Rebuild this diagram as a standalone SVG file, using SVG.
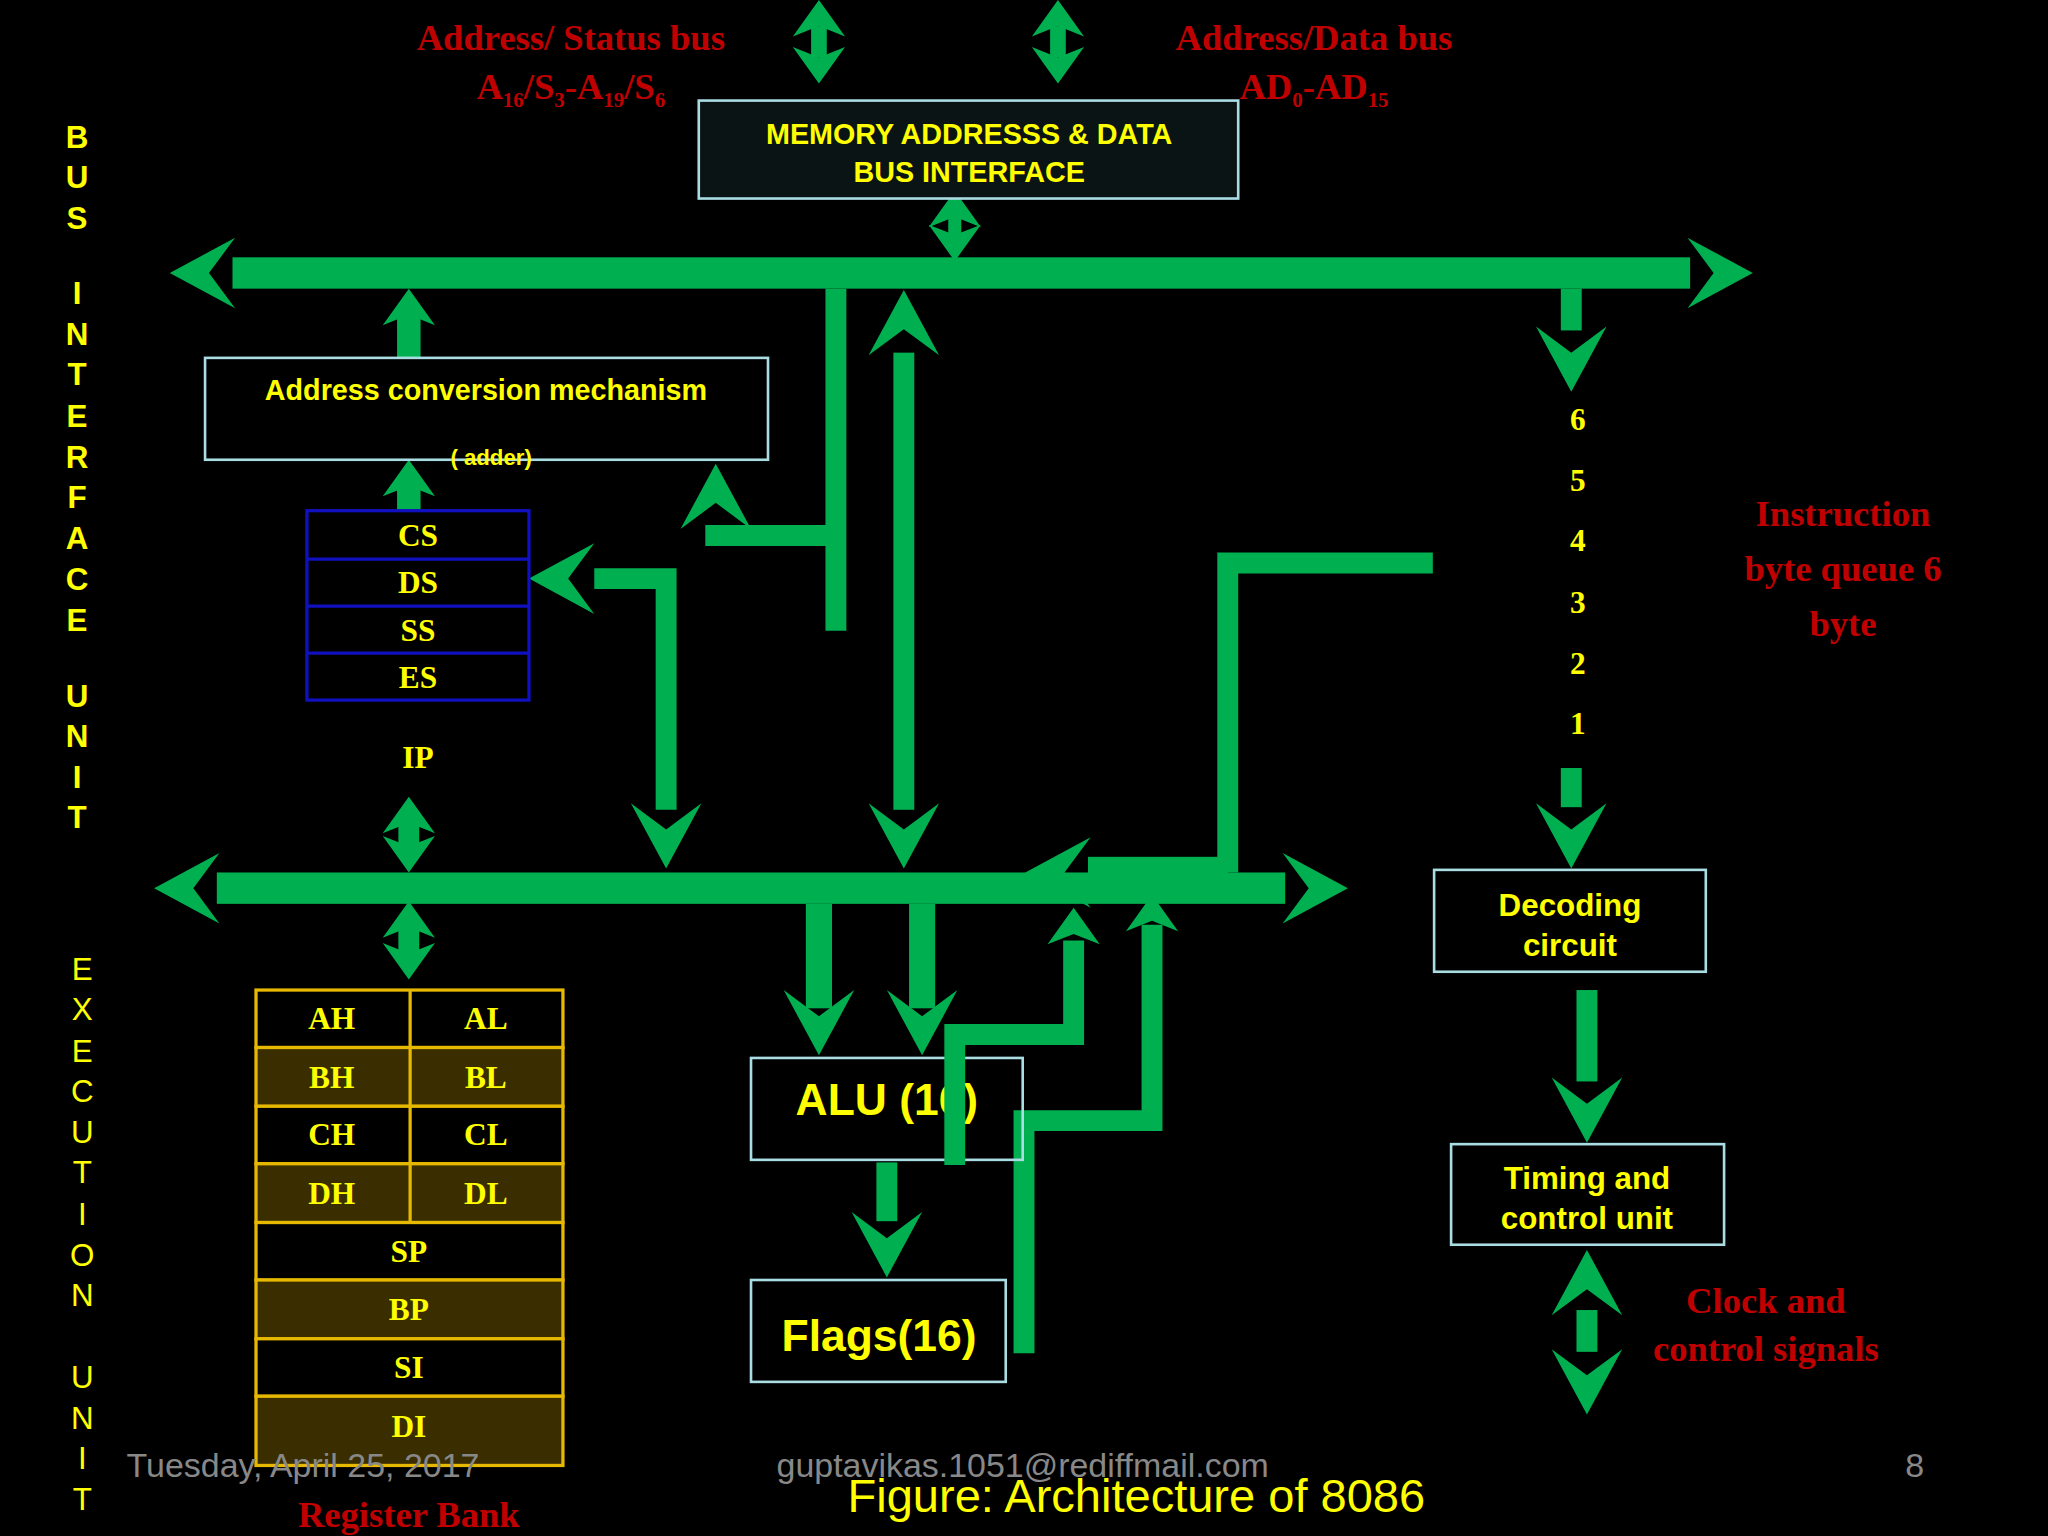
<svg xmlns="http://www.w3.org/2000/svg" xmlns:xlink="http://www.w3.org/1999/xlink" width="2048" height="1536" viewBox="0 0 2048 1536">
<style>
.g{fill:#00b050}
.gl{stroke:#00b050;fill:none}
.red{fill:#c00000;font-family:"Liberation Serif",serif;font-weight:bold;font-size:28px;text-anchor:middle}
.ys{fill:#ffff00;font-family:"Liberation Sans",Arial,sans-serif;font-weight:bold;text-anchor:middle}
.yr{fill:#ffff00;font-family:"Liberation Serif",serif;font-weight:bold;font-size:24px;text-anchor:middle}
.box{fill:none;stroke:#a9dce3;stroke-width:2}
.reg{stroke:#e6b800;stroke-width:2.5}
.ft{fill:#888;font-family:"Liberation Sans",Arial,sans-serif;font-size:26px;text-anchor:middle}
</style>
<defs>
<path id="ah" d="M0 0 L-27 -50 L0 -30 L27 -50 Z" class="g"/>
<path id="sh" d="M0 0 L-20 -28 L0 -20 L20 -28 Z" class="g"/>
</defs>
<rect width="2048" height="1536" fill="#000"/>
<g transform="scale(1.30612)">
<g id="labels">
<text class="red" x="437" y="38">Address/ Status bus</text>
<text class="red" x="437" y="76">A<tspan font-size="16" dy="6">16</tspan><tspan dy="-6">/S</tspan><tspan font-size="16" dy="6">3</tspan><tspan dy="-6">-A</tspan><tspan font-size="16" dy="6">19</tspan><tspan dy="-6">/S</tspan><tspan font-size="16" dy="6">6</tspan></text>
<text class="red" x="1006" y="38">Address/Data bus</text>
<text class="red" x="1006" y="76">AD<tspan font-size="16" dy="6">0</tspan><tspan dy="-6">-AD</tspan><tspan font-size="16" dy="6">15</tspan></text>
<g class="ys" font-size="24">
<text x="59" y="113">B</text><text x="59" y="144">U</text><text x="59" y="175">S</text>
<text x="59" y="233">I</text><text x="59" y="264">N</text><text x="59" y="295">T</text><text x="59" y="327">E</text><text x="59" y="358">R</text><text x="59" y="389">F</text><text x="59" y="420">A</text><text x="59" y="452">C</text><text x="59" y="483">E</text>
<text x="59" y="541">U</text><text x="59" y="572">N</text><text x="59" y="603">I</text><text x="59" y="634">T</text>
</g>
<g fill="#ffff00" font-family="Liberation Sans,Arial,sans-serif" font-size="24" text-anchor="middle">
<text x="63" y="750">E</text><text x="63" y="781">X</text><text x="63" y="813">E</text><text x="63" y="844">C</text><text x="63" y="875">U</text><text x="63" y="906">T</text><text x="63" y="938">I</text><text x="63" y="969">O</text><text x="63" y="1000">N</text>
<text x="63" y="1063">U</text><text x="63" y="1094">N</text><text x="63" y="1125">I</text><text x="63" y="1156">T</text>
</g>
<text class="yr" x="320" y="588">IP</text>
<g class="yr" font-weight="normal" font-size="20">
<text x="1208" y="329">6</text><text x="1208" y="376">5</text><text x="1208" y="422">4</text><text x="1208" y="469">3</text><text x="1208" y="516">2</text><text x="1208" y="562">1</text>
</g>
<text class="red" x="1411" y="403" font-size="34">Instruction</text>
<text class="red" x="1411" y="445" font-size="34">byte queue 6</text>
<text class="red" x="1411" y="487" font-size="34">byte</text>
<text class="red" x="1352" y="1005">Clock and</text>
<text class="red" x="1352" y="1042">control signals</text>
<text class="red" x="313" y="1169">Register Bank</text>
</g>
<g id="connectors">
<rect class="g" x="621" y="20" width="12" height="24"/><use xlink:href="#sh" transform="translate(627,64)"/><use xlink:href="#sh" transform="translate(627,0) rotate(180)"/>
<rect class="g" x="804" y="20" width="12" height="24"/><use xlink:href="#sh" transform="translate(810,64)"/><use xlink:href="#sh" transform="translate(810,0) rotate(180)"/>
<rect class="g" x="726" y="166" width="10" height="18"/><use xlink:href="#sh" transform="translate(731,200)"/><use xlink:href="#sh" transform="translate(731,146) rotate(180)"/>
<rect class="g" x="178" y="197" width="1116" height="24"/>
<use xlink:href="#ah" transform="translate(130,209) rotate(90)"/>
<use xlink:href="#ah" transform="translate(1342,209) rotate(-90)"/>
<rect class="g" x="304" y="240" width="18" height="34"/><use xlink:href="#sh" transform="translate(313,221) rotate(180)"/>
<rect class="g" x="304" y="370" width="18" height="22"/><use xlink:href="#sh" transform="translate(313,352) rotate(180)"/>
<path class="gl" stroke-width="16" d="M455 443 H510 V620"/><use xlink:href="#ah" transform="translate(405,443) rotate(90)"/><use xlink:href="#ah" transform="translate(510,665)"/>
<path class="gl" stroke-width="16" d="M540 410 H640 M640 221 V483"/><use xlink:href="#ah" transform="translate(548,355) rotate(180)"/>
<rect class="g" x="684" y="270" width="16" height="350"/><use xlink:href="#ah" transform="translate(692,222) rotate(180)"/><use xlink:href="#ah" transform="translate(692,665)"/>
<rect class="g" x="305" y="628" width="16" height="22"/><use xlink:href="#sh" transform="translate(313,610) rotate(180)"/><use xlink:href="#sh" transform="translate(313,668)"/>
<rect class="g" x="305" y="708" width="16" height="24"/><use xlink:href="#sh" transform="translate(313,690) rotate(180)"/><use xlink:href="#sh" transform="translate(313,750)"/>
<rect class="g" x="166" y="668" width="818" height="24"/>
<use xlink:href="#ah" transform="translate(118,680) rotate(90)"/>
<use xlink:href="#ah" transform="translate(1032,680) rotate(-90)"/>
<path class="gl" stroke-width="16" d="M940 668 V431 H1097"/>
<rect class="g" x="833" y="656" width="107" height="14"/>
<use xlink:href="#ah" transform="translate(785,668) rotate(90)"/>
<rect class="g" x="617" y="692" width="20" height="80"/><use xlink:href="#ah" transform="translate(627,808)"/>
<rect class="g" x="696" y="692" width="20" height="80"/><use xlink:href="#ah" transform="translate(706,808)"/>
<path class="gl" stroke-width="16" d="M822 720 V792 H780"/><use xlink:href="#sh" transform="translate(822,695) rotate(180)"/>
<path class="gl" stroke-width="16" d="M784 1036 V858 H882 V708"/><use xlink:href="#sh" transform="translate(882,685) rotate(180)"/>
<rect class="g" x="671" y="890" width="16" height="45"/><use xlink:href="#ah" transform="translate(679,978)"/>
<rect class="g" x="1195" y="221" width="16" height="32"/><use xlink:href="#ah" transform="translate(1203,300)"/>
<rect class="g" x="1195" y="588" width="16" height="30"/><use xlink:href="#ah" transform="translate(1203,665)"/>
<rect class="g" x="1207" y="758" width="16" height="70"/><use xlink:href="#ah" transform="translate(1215,875)"/>
<rect class="g" x="1207" y="1003" width="16" height="32"/><use xlink:href="#ah" transform="translate(1215,957) rotate(180)"/><use xlink:href="#ah" transform="translate(1215,1083)"/>
</g>
<g id="mem"><rect x="535" y="77" width="413" height="75" fill="#0a1414" stroke="#a9dce3" stroke-width="2"/>
<text class="ys" x="742" y="110" font-size="22">MEMORY ADDRESSS &amp; DATA</text>
<text class="ys" x="742" y="139" font-size="22">BUS INTERFACE</text></g>
<g id="adc"><rect x="157" y="274" width="431" height="78" fill="none" stroke="#a9dce3" stroke-width="2"/>
<text class="ys" x="372" y="306" font-size="22">Address conversion mechanism</text>
<text class="ys" x="376" y="356" font-size="17" font-weight="normal">( adder)</text></g>
<g id="seg">
<rect x="235" y="391" width="170" height="145" fill="none" stroke="#1010c0" stroke-width="2.5"/>
<path d="M235 428H405M235 464H405M235 500H405" stroke="#1010c0" stroke-width="2.5"/>
<text class="yr" x="320" y="418">CS</text><text class="yr" x="320" y="454">DS</text><text class="yr" x="320" y="491">SS</text><text class="yr" x="320" y="527">ES</text>
</g>
<g id="regs">
<rect class="reg" x="196" y="758" width="235" height="44" fill="#000"/>
<rect class="reg" x="196" y="802" width="235" height="45" fill="#3a2e00"/>
<rect class="reg" x="196" y="847" width="235" height="44" fill="#000"/>
<rect class="reg" x="196" y="891" width="235" height="45" fill="#3a2e00"/>
<rect class="reg" x="196" y="936" width="235" height="44" fill="#000"/>
<rect class="reg" x="196" y="980" width="235" height="45" fill="#3a2e00"/>
<rect class="reg" x="196" y="1025" width="235" height="44" fill="#000"/>
<rect class="reg" x="196" y="1069" width="235" height="53" fill="#3a2e00"/>
<path d="M314 758V936" stroke="#e6b800" stroke-width="2.5"/>
<g class="yr" font-size="22">
<text x="254" y="788">AH</text><text x="372" y="788">AL</text>
<text x="254" y="833">BH</text><text x="372" y="833">BL</text>
<text x="254" y="877">CH</text><text x="372" y="877">CL</text>
<text x="254" y="922">DH</text><text x="372" y="922">DL</text>
<text x="313" y="966">SP</text><text x="313" y="1011">BP</text><text x="313" y="1055">SI</text><text x="313" y="1100">DI</text>
</g></g>
<g id="alu"><rect class="box" x="575" y="810" width="208" height="78"/><text class="ys" x="679" y="854" font-size="34">ALU (16)</text></g>
<path class="gl" stroke-width="16" d="M731 892 V792 H790"/>
<g id="flags"><rect class="box" x="575" y="980" width="195" height="78"/><text class="ys" x="673" y="1034" font-size="34">Flags(16)</text></g>
<g id="dec"><rect class="box" x="1098" y="666" width="208" height="78"/><text class="ys" x="1202" y="701" font-size="24">Decoding</text><text class="ys" x="1202" y="732" font-size="24">circuit</text></g>
<g id="tim"><rect class="box" x="1111" y="876" width="209" height="77"/><text class="ys" x="1215" y="910" font-size="24">Timing and</text><text class="ys" x="1215" y="941" font-size="24">control unit</text></g>
<g id="footer">
<text class="ft" x="232" y="1131">Tuesday, April 25, 2017</text>
<text class="ft" x="783" y="1131">guptavikas.1051@rediffmail.com</text>
<text class="ft" x="1466" y="1131">8</text>
<text x="870" y="1158" fill="#ffff00" font-family="Liberation Sans,Arial,sans-serif" font-size="36" text-anchor="middle">Figure: Architecture of 8086</text>
</g>
</g>
</svg>
